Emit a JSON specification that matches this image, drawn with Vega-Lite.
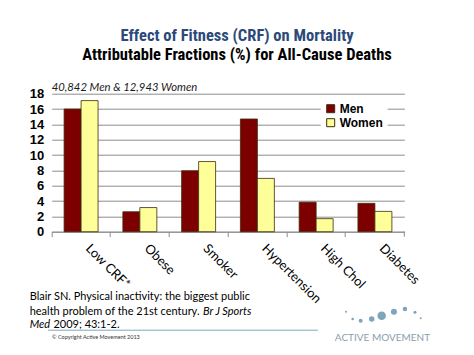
{
  "$schema": "https://vega.github.io/schema/vega-lite/v6.json",
  "width": 352.6,
  "height": 138,
  "autosize": {"type": "none"},
  "padding": {"left": 51.7, "top": 93.7, "right": 69.7, "bottom": 123.6},
  "background": "white",
  "config": {"view": {"stroke": null}},
  "title": {
    "text": "Effect of Fitness (CRF) on Mortality",
    "subtitle": "Attributable Fractions (%) for All-Cause Deaths",
    "font": "'Liberation Sans Narrow', 'Roboto Condensed', 'DejaVu Sans Condensed', sans-serif",
    "fontWeight": "bold",
    "fontSize": 16.5,
    "color": "#2b4a7a",
    "subtitleFont": "'Liberation Sans Narrow', 'Roboto Condensed', 'DejaVu Sans Condensed', sans-serif",
    "subtitleFontWeight": "bold",
    "subtitleFontSize": 16.5,
    "subtitleColor": "#000000",
    "subtitlePadding": 2,
    "anchor": "middle",
    "frame": "group",
    "dx": 9,
    "offset": 19
  },
  "datasets": {
    "bars": [
      {"cause": "Low CRF*", "sex": "Men", "value": 16.0},
      {"cause": "Low CRF*", "sex": "Women", "value": 17.1},
      {"cause": "Obese", "sex": "Men", "value": 2.6},
      {"cause": "Obese", "sex": "Women", "value": 3.15},
      {"cause": "Smoker", "sex": "Men", "value": 7.95},
      {"cause": "Smoker", "sex": "Women", "value": 9.15},
      {"cause": "Hypertension", "sex": "Men", "value": 14.7},
      {"cause": "Hypertension", "sex": "Women", "value": 6.95},
      {"cause": "High Chol", "sex": "Men", "value": 3.85},
      {"cause": "High Chol", "sex": "Women", "value": 1.7},
      {"cause": "Diabetes", "sex": "Men", "value": 3.7},
      {"cause": "Diabetes", "sex": "Women", "value": 2.65}
    ],
    "one": [{}],
    "logo": [
      {"px": 5.008, "py": -10.43, "d2": 4},
      {"px": 5.122, "py": -11.39, "d2": 7},
      {"px": 5.258, "py": -11.61, "d2": 16},
      {"px": 5.445, "py": -11.39, "d2": 30},
      {"px": 5.615, "py": -10.96, "d2": 72},
      {"px": 5.824, "py": -10.43, "d2": 36},
      {"px": 6.011, "py": -10.08, "d2": 20},
      {"px": 6.182, "py": -10.51, "d2": 9},
      {"px": 6.279, "py": -11.30, "d2": 4}
    ]
  },
  "resolve": {"scale": {"x": "independent", "y": "independent"}},
  "layer": [
    {
      "data": {"name": "bars"},
      "mark": {"type": "bar", "stroke": "#3d2a0a", "strokeWidth": 0.8},
      "encoding": {
        "x": {
          "field": "cause",
          "type": "nominal",
          "sort": null,
          "scale": {"paddingInner": 0, "paddingOuter": 0},
          "axis": {
            "title": null,
            "bandPosition": 0,
            "domainColor": "#8c8c8c",
            "tickColor": "#8c8c8c",
            "tickSize": 5,
            "labelAngle": 45,
            "labelAlign": "left",
            "labelBaseline": "top",
            "labelOffset": 11,
            "labelPadding": 5,
            "labelFont": "Lato",
            "labelFontSize": 13,
            "labelColor": "#000000",
            "labelOverlap": false,
            "labelBound": false,
            "labelFlush": false,
            "grid": false
          }
        },
        "xOffset": {
          "field": "sex",
          "type": "nominal",
          "scale": {"domain": ["Men", "Women"], "paddingInner": 0, "paddingOuter": 0.73}
        },
        "y": {
          "field": "value",
          "type": "quantitative",
          "scale": {"domain": [0, 18], "nice": false},
          "axis": {
            "title": null,
            "values": [0, 2, 4, 6, 8, 10, 12, 14, 16, 18],
            "grid": true,
            "gridColor": "#8c8c8c",
            "gridWidth": 1,
            "domain": false,
            "ticks": false,
            "labelFont": "Liberation Sans",
            "labelFontWeight": "bold",
            "labelFontSize": 13,
            "labelColor": "#000000",
            "labelPadding": 8
          }
        },
        "color": {
          "field": "sex",
          "type": "nominal",
          "scale": {"domain": ["Men", "Women"], "range": ["#7d0000", "#ffff99"]},
          "legend": {
            "title": null,
            "orient": "none",
            "legendX": 269,
            "legendY": 5,
            "fillColor": "#ffffff",
            "padding": 4,
            "symbolType": "square",
            "symbolSize": 64,
            "symbolStrokeColor": "#3d2a0a",
            "symbolStrokeWidth": 1,
            "symbolOpacity": 1,
            "labelFont": "Liberation Sans",
            "labelFontWeight": "bold",
            "labelFontSize": 12,
            "labelColor": "#000000",
            "labelOffset": 3,
            "rowPadding": 2
          }
        }
      }
    },
    {
      "data": {"name": "one"},
      "mark": {"type": "rule", "color": "#8c8c8c", "strokeWidth": 1},
      "encoding": {
        "x": {"datum": 6, "type": "quantitative", "scale": {"domain": [0, 6], "nice": false, "zero": false}, "axis": null},
        "y": {"datum": 0, "type": "quantitative", "scale": {"domain": [0, 18], "nice": false}, "axis": null},
        "y2": {"datum": -0.65}
      }
    },
    {
      "data": {"name": "one"},
      "mark": {"type": "text", "text": "40,842 Men & 12,943 Women", "font": "Lato", "fontStyle": "italic", "fontSize": 11.3, "align": "left", "baseline": "alphabetic", "color": "#1a1a1a"},
      "encoding": {
        "x": {"datum": 0, "type": "quantitative", "scale": {"domain": [0, 6], "nice": false, "zero": false}, "axis": null},
        "y": {"datum": 18.29, "type": "quantitative", "scale": {"domain": [0, 18], "nice": false}, "axis": null}
      }
    },
    {
      "data": {"name": "one"},
      "mark": {"type": "text", "text": "Blair SN. Physical inactivity: the biggest public", "font": "Lato", "fontSize": 11, "align": "left", "baseline": "middle", "color": "#000000"},
      "encoding": {
        "x": {"datum": -0.375, "type": "quantitative", "scale": {"domain": [0, 6], "nice": false, "zero": false}, "axis": null},
        "y": {"datum": -8.48, "type": "quantitative", "scale": {"domain": [0, 18], "nice": false}, "axis": null}
      }
    },
    {
      "data": {"name": "one"},
      "mark": {"type": "text", "text": "health problem of the 21st century.", "font": "Lato", "fontSize": 11, "align": "left", "baseline": "middle", "color": "#000000"},
      "encoding": {
        "x": {"datum": -0.375, "type": "quantitative", "scale": {"domain": [0, 6], "nice": false, "zero": false}, "axis": null},
        "y": {"datum": -10.43, "type": "quantitative", "scale": {"domain": [0, 18], "nice": false}, "axis": null}
      }
    },
    {
      "data": {"name": "one"},
      "mark": {"type": "text", "text": "Br J Sports", "font": "Lato", "fontStyle": "italic", "fontSize": 11, "align": "left", "baseline": "middle", "color": "#000000"},
      "encoding": {
        "x": {"datum": 2.575, "type": "quantitative", "scale": {"domain": [0, 6], "nice": false, "zero": false}, "axis": null},
        "y": {"datum": -10.43, "type": "quantitative", "scale": {"domain": [0, 18], "nice": false}, "axis": null}
      }
    },
    {
      "data": {"name": "one"},
      "mark": {"type": "text", "text": "Med", "font": "Lato", "fontStyle": "italic", "fontSize": 11, "align": "left", "baseline": "middle", "color": "#000000"},
      "encoding": {
        "x": {"datum": -0.375, "type": "quantitative", "scale": {"domain": [0, 6], "nice": false, "zero": false}, "axis": null},
        "y": {"datum": -12.2, "type": "quantitative", "scale": {"domain": [0, 18], "nice": false}, "axis": null}
      }
    },
    {
      "data": {"name": "one"},
      "mark": {"type": "text", "text": "2009; 43:1-2.", "font": "Lato", "fontSize": 11, "align": "left", "baseline": "middle", "color": "#000000"},
      "encoding": {
        "x": {"datum": 0.03, "type": "quantitative", "scale": {"domain": [0, 6], "nice": false, "zero": false}, "axis": null},
        "y": {"datum": -12.2, "type": "quantitative", "scale": {"domain": [0, 18], "nice": false}, "axis": null}
      }
    },
    {
      "data": {"name": "one"},
      "mark": {"type": "rule", "color": "#7fa9b9", "strokeWidth": 1},
      "encoding": {
        "x": {"datum": -0.063, "type": "quantitative", "scale": {"domain": [0, 6], "nice": false, "zero": false}, "axis": null},
        "x2": {"datum": 4.53},
        "y": {"datum": -12.85, "type": "quantitative", "scale": {"domain": [0, 18], "nice": false}, "axis": null}
      }
    },
    {
      "data": {"name": "one"},
      "mark": {"type": "text", "text": "© Copyright Active Movement 2013", "font": "Lato", "fontSize": 5.5, "align": "left", "baseline": "middle", "color": "#333333"},
      "encoding": {
        "x": {"datum": 0.005, "type": "quantitative", "scale": {"domain": [0, 6], "nice": false, "zero": false}, "axis": null},
        "y": {"datum": -13.73, "type": "quantitative", "scale": {"domain": [0, 18], "nice": false}, "axis": null}
      }
    },
    {
      "data": {"name": "one"},
      "mark": {"type": "text", "text": "ACTIVE MOVEMENT", "font": "Lato", "fontSize": 10, "letterSpacing": 0.8, "align": "center", "baseline": "middle", "color": "#8a9eab"},
      "encoding": {
        "x": {"datum": 5.628, "type": "quantitative", "scale": {"domain": [0, 6], "nice": false, "zero": false}, "axis": null},
        "y": {"datum": -13.87, "type": "quantitative", "scale": {"domain": [0, 18], "nice": false}, "axis": null}
      }
    },
    {
      "data": {"name": "logo"},
      "mark": {"type": "point", "shape": "circle", "filled": true, "color": "#7ea5bb", "opacity": 1},
      "encoding": {
        "x": {"field": "px", "type": "quantitative", "scale": {"domain": [0, 6], "nice": false, "zero": false}, "axis": null},
        "y": {"field": "py", "type": "quantitative", "scale": {"domain": [0, 18], "nice": false}, "axis": null},
        "size": {"field": "d2", "type": "quantitative", "scale": null, "legend": null}
      }
    }
  ]
}
